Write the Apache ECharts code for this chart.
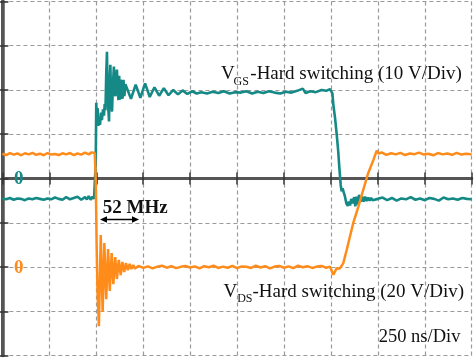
<!DOCTYPE html>
<html>
<head>
<meta charset="utf-8">
<script src="https://cdn.jsdelivr.net/npm/echarts@6/dist/echarts.min.js"></script>
<style>
html,body{margin:0;padding:0;background:#fff;}
#chart{width:474px;height:358px;}
</style>
</head>
<body>
<div id="chart"></div>
<script>
// Time axis: ns, 250 ns/Div, 10 divisions
const timeAxis = { min: 0, max: 2500, step: 250 };
// Screen divisions (vertical): 8 divisions
const divAxis = { min: -4, max: 4, step: 1 };
// VGS: 10 V/Div, VDS: 20 V/Div (ranges chosen so zero markers sit where the scope put them)
const vgsRange = { min: -39.4, max: 40.6 };
const vdsRange = { min: -40, max: 120 };

// V_GS hard switching trace [time ns, volts]
const vgsWave = [
[0,-3.9],[20,-4.1],[40,-3.8],[60,-4.2],[80,-3.9],[100,-4.0],[120,-4.3],[140,-3.9],[160,-4.1],[180,-3.8],
[200,-4.0],[220,-4.2],[240,-3.9],[260,-4.1],[280,-3.7],[300,-4.0],[320,-4.2],[340,-3.6],[360,-4.1],[380,-3.8],
[400,-3.5],[420,-4.2],[440,-3.6],[450,-4.1],[460,-3.4],[470,-4.2],[480,-3.5],[488,-4.0],[494,-3.6],
[497,4.0],[500,17.7],[503,14.0],[507,16.5],[511,12.5],[515,14.5],[520,12.7],[525,15.5],[530,13.8],[536,16.2],
[541,14.8],[545,17.4],[549,16.0],[553,24.0],[557,29.2],[560,21.0],[564,16.5],[568,13.5],[571,22.0],[575,26.3],
[579,19.0],[584,15.7],[589,22.0],[594,25.9],[598,20.0],[602,19.2],[606,23.5],[610,25.2],[614,21.5],[618,18.3],
[622,23.8],[626,18.4],[630,22.9],[635,21.8],[640,18.6],[645,22.9],[650,19.2],[655,21.9],[660,22.0],[685,18.6],
[710,21.8],[735,18.8],[760,22.1],[785,19.0],[810,21.2],[835,19.3],[860,21.0],[885,19.4],[910,20.6],[935,19.6],
[960,20.5],[985,19.7],[1010,20.3],[1035,19.8],[1060,20.1],[1090,19.8],[1120,20.2],[1150,19.9],[1180,20.3],
[1210,19.8],[1240,20.1],[1270,20.0],[1300,20.3],[1330,19.8],[1360,20.2],[1390,19.9],[1420,20.3],[1450,20.0],
[1480,19.8],[1510,20.2],[1540,20.0],[1570,20.4],[1600,20.9],[1615,19.9],[1640,20.3],[1670,20.1],[1700,20.6],
[1725,20.4],[1745,20.8],[1752,20.5],[1758,19.8],[1763,17.2],[1772,14.3],[1781,10.5],[1789,6.7],[1795,3.0],
[1802,-0.8],[1807,-2.3],[1812,-1.6],[1818,-2.5],[1825,-3.5],[1832,-5.0],[1840,-5.6],[1846,-4.6],[1852,-5.5],
[1858,-4.0],[1866,-5.0],[1874,-3.6],[1880,-5.7],[1886,-3.5],[1893,-5.3],[1900,-3.1],[1908,-4.6],[1916,-3.5],
[1924,-4.6],[1932,-3.5],[1940,-4.5],[1948,-3.7],[1956,-4.4],[1964,-3.8],[1972,-4.3],[1980,-3.9],
[2000,-4.0],[2025,-3.7],[2050,-4.3],[2075,-3.8],[2100,-4.4],[2125,-3.9],[2150,-4.1],[2175,-3.6],[2200,-4.2],
[2225,-3.9],[2250,-4.3],[2275,-3.8],[2300,-4.0],[2325,-4.4],[2350,-3.7],[2375,-4.1],[2400,-3.9],[2425,-4.2],
[2450,-3.8],[2475,-4.0],[2500,-4.1]
];

// V_DS hard switching trace [time ns, volts]
const vdsWave = [
[0,51.2],[20,50.6],[40,51.5],[60,50.8],[80,51.3],[100,50.5],[120,51.4],[140,50.9],[160,51.6],[180,50.7],
[200,51.2],[220,50.5],[240,51.5],[260,50.8],[280,51.1],[300,50.6],[320,51.4],[340,50.9],[360,51.5],[380,50.6],
[400,51.3],[420,50.8],[440,51.7],[460,50.9],[475,51.8],[485,52.5],[492,51.5],
[497,40.0],[502,10.0],[507,-12.0],[514,-26.7],[524,14.5],[534,-20.3],[543,10.8],[553,-14.5],[563,8.1],
[572,-10.8],[582,6.3],[591,-7.7],[601,4.5],[610,-5.4],[620,3.2],[630,-3.6],[639,2.3],[649,-2.3],[658,1.8],
[668,-1.4],[678,1.4],[687,-0.9],[697,0.9],[706,-0.7],
[725,0.5],[750,-0.4],[775,0.3],[800,-0.6],[825,0.2],[850,0.6],[875,-0.3],[900,0.4],[925,-0.5],[950,0.1],
[975,0.5],[1000,-0.2],[1025,0.3],[1050,-0.6],[1075,0.4],[1100,-0.1],[1125,0.6],[1150,-0.4],[1175,0.2],[1200,-0.3],
[1225,0.5],[1250,-0.5],[1275,0.3],[1300,0.1],[1325,-0.4],[1350,0.6],[1375,-0.2],[1400,0.4],[1425,-0.6],[1450,0.2],
[1475,0.5],[1500,-0.3],[1525,0.3],[1550,-0.5],[1575,0.6],[1600,-0.1],[1625,0.4],[1650,-0.4],[1675,0.2],[1700,0.5],
[1725,-0.3],[1745,0.2],[1763,-3.5],[1781,-0.5],[1798,-0.6],[1816,1.8],[1834,7.7],[1869,19.9],[1896,27.2],
[1922,34.8],[1949,42.5],[1976,48.3],[1994,52.6],[2005,51.2],
[2020,51.8],[2045,50.7],[2070,51.4],[2095,50.9],[2120,51.6],[2145,50.6],[2170,51.3],[2195,51.0],[2220,51.7],
[2245,50.8],[2270,51.2],[2295,50.5],[2320,51.5],[2345,50.9],[2370,51.3],[2395,50.7],[2420,51.6],[2445,50.8],
[2470,51.2],[2495,51.0],[2500,51.1]
];

const vgsColor = '#148985';
const vdsColor = '#ff8c1a';
const frameColor = '#555555';
const serif = '"Liberation Serif", "Times New Roman", serif';

const chart = echarts.init(document.getElementById('chart'), null, { renderer: 'canvas' });

const tickStyle = { show: true, inside: true, length: 6, lineStyle: { color: '#333', width: 1.5 } };
const gridDash = { show: true, lineStyle: { color: '#9a9a9a', width: 1.2, type: [4, 3] } };

function txt(x, y, text, size, color, weight) {
  return {
    type: 'text', x: x, y: y, z: 100,
    style: {
      text: text, fill: color,
      fontFamily: serif, fontSize: size, fontWeight: weight || 'normal',
      textAlign: 'left', textVerticalAlign: 'middle'
    }
  };
}

chart.setOption({
  animation: false,
  backgroundColor: '#fff',
  grid: { left: 2.4, top: 1.4, width: 469.3, height: 354.2, show: false },
  xAxis: [
    { type: 'value', min: timeAxis.min, max: timeAxis.max, interval: timeAxis.step, position: 'bottom',
      axisLine: { show: true, lineStyle: { color: frameColor, width: 3 } },
      axisTick: tickStyle, axisLabel: { show: false }, splitLine: gridDash },
    { type: 'value', min: timeAxis.min, max: timeAxis.max, interval: timeAxis.step, position: 'top',
      axisLine: { show: true, lineStyle: { color: frameColor, width: 2.5 } },
      axisTick: tickStyle, axisLabel: { show: false }, splitLine: { show: false } }
  ],
  yAxis: [
    { type: 'value', min: divAxis.min, max: divAxis.max, interval: divAxis.step, position: 'left',
      axisLine: { show: true, lineStyle: { color: frameColor, width: 3.5 } },
      axisTick: tickStyle, axisLabel: { show: false }, splitLine: gridDash },
    { type: 'value', min: divAxis.min, max: divAxis.max, interval: divAxis.step, position: 'right',
      axisLine: { show: true, lineStyle: { color: frameColor, width: 3 } },
      axisTick: tickStyle, axisLabel: { show: false }, splitLine: { show: false } },
    { type: 'value', min: vgsRange.min, max: vgsRange.max, show: false, splitLine: { show: false } },
    { type: 'value', min: vdsRange.min, max: vdsRange.max, show: false, splitLine: { show: false } }
  ],
  series: [
    { name: 'VGS', type: 'line', xAxisIndex: 0, yAxisIndex: 2, data: vgsWave, showSymbol: false,
      lineStyle: { color: vgsColor, width: 2.6 }, itemStyle: { color: vgsColor }, z: 3 },
    { name: 'VDS', type: 'line', xAxisIndex: 0, yAxisIndex: 3, data: vdsWave, showSymbol: false,
      lineStyle: { color: vdsColor, width: 2.5 }, itemStyle: { color: vdsColor }, z: 4 }
  ],
  graphic: [
    txt(221, 74.3, 'V', 19, '#111'),
    txt(233.5, 81.4, 'GS', 12, '#111'),
    txt(250.3, 74.3, '-Hard switching (10 V/Div)', 19, '#111'),
    txt(223.5, 291.6, 'V', 19, '#111'),
    txt(237.2, 298.7, 'DS', 12, '#111'),
    txt(252.5, 291.6, '-Hard switching (20 V/Div)', 19, '#111'),
    txt(378.7, 337.4, '250 ns/Div', 18.5, '#111'),
    txt(102.7, 208.3, '52 MHz', 19, '#111', 'bold'),
    txt(14, 179.5, '0', 19, vgsColor, 'bold'),
    txt(14, 268.2, '0', 19, vdsColor, 'bold'),
    { type: 'line', z: 100, shape: { x1: 104, y1: 219.5, x2: 135, y2: 219.5 }, style: { stroke: '#000', lineWidth: 1.5 } },
    { type: 'polygon', z: 100, shape: { points: [[100, 219.5], [107, 216.3], [107, 222.7]] }, style: { fill: '#000' } },
    { type: 'polygon', z: 100, shape: { points: [[139, 219.5], [132, 216.3], [132, 222.7]] }, style: { fill: '#000' } }
  ]
});
</script>
</body>
</html>
